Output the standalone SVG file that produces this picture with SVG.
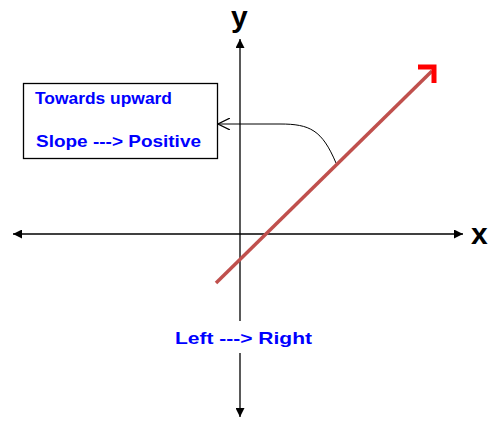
<svg xmlns="http://www.w3.org/2000/svg" width="498" height="422" viewBox="0 0 498 422">
<style>
.axis{stroke:#000;stroke-width:1.3;fill:none}
.lbl{font-family:"Liberation Sans",Arial,sans-serif;font-weight:bold;fill:#0000ff;font-size:16.5px}
.ax{font-family:"Liberation Sans",Arial,sans-serif;font-weight:bold;fill:#000;font-size:30px}
</style>
<defs>
<marker id="tri" viewBox="0 0 10 10" refX="10" refY="5" markerWidth="9" markerHeight="9" markerUnits="userSpaceOnUse" orient="auto-start-reverse">
<path d="M0,0 L10,5 L0,10 Z" fill="#000"/>
</marker>
<marker id="open" viewBox="0 0 10 10" refX="10" refY="5" markerWidth="12" markerHeight="12" markerUnits="userSpaceOnUse" orient="auto">
<path d="M0,0 L10,5 L0,10" fill="none" stroke="#000" stroke-width="1"/>
</marker>
</defs>
<g id="connectors">
<line class="axis" x1="13" y1="234" x2="463" y2="234" marker-start="url(#tri)" marker-end="url(#tri)"/>
<line class="axis" x1="240" y1="321" x2="240" y2="39" marker-end="url(#tri)"/>
<line class="axis" x1="240" y1="353" x2="240" y2="417" marker-end="url(#tri)"/>
<path d="M336,163 C322,130 310,124 280,124 L218,124" stroke="#000" stroke-width="1" fill="none" marker-end="url(#open)"/>
</g>
<g id="slope-line">
<line x1="216" y1="283" x2="432" y2="71" stroke="#c0504d" stroke-width="3.5"/>
<path d="M418,67 L434,67 L434,83" fill="none" stroke="#ff0000" stroke-width="5" stroke-linejoin="miter"/>
</g>
<g id="label-box">
<rect x="23.5" y="83.5" width="194" height="75" fill="#fff" stroke="#000" stroke-width="1.3"/>
<text class="lbl" x="35" y="104" textLength="137" lengthAdjust="spacingAndGlyphs">Towards upward</text>
<text class="lbl" x="36" y="147" textLength="165" lengthAdjust="spacingAndGlyphs">Slope ---&gt; Positive</text>
</g>
<g id="axis-label-x"><text class="ax" x="471" y="244">x</text></g>
<g id="axis-label-y"><text class="ax" x="231" y="27">y</text></g>
<g id="label-direction"><text class="lbl" x="175" y="344" textLength="137" lengthAdjust="spacingAndGlyphs">Left ---&gt; Right</text></g>
</svg>
